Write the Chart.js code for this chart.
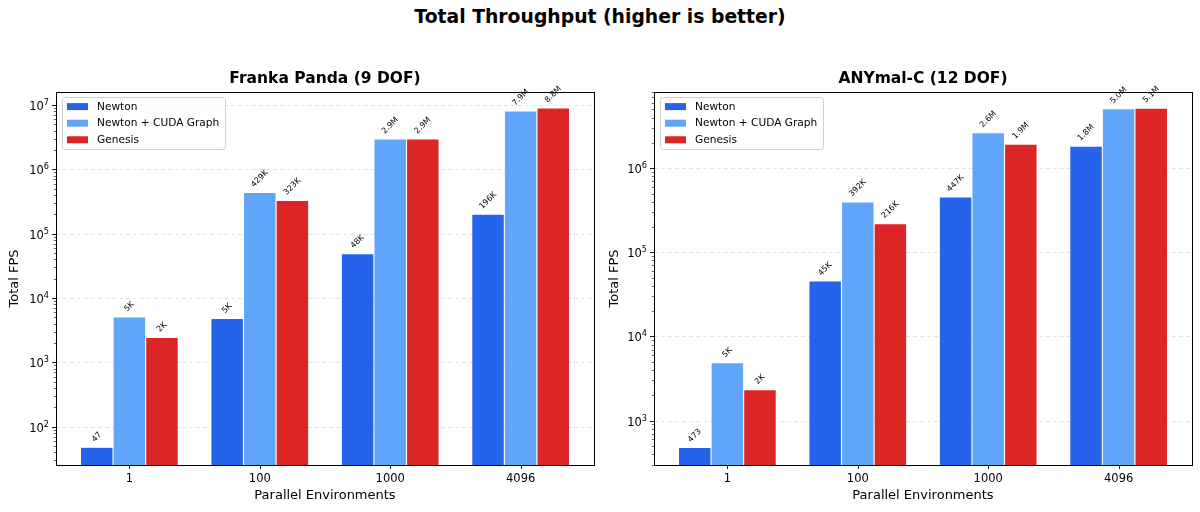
<!DOCTYPE html>
<html><head><meta charset="utf-8">
<script src="https://cdn.jsdelivr.net/npm/chart.js@4.4.0/dist/chart.umd.min.js"></script>
<style>
html,body{margin:0;padding:0;background:#fff;}
#wrap{position:relative;width:1200px;height:512px;overflow:hidden;}
#sup{position:absolute;left:0;top:5px;width:1200px;text-align:center;font:bold 18.8px "DejaVu Sans";color:#000;line-height:24px;}
.c{position:absolute;top:0;width:600px;height:512px;}
</style></head><body>
<div id="wrap">
<div id="sup">Total Throughput (higher is better)</div>
<div class="c" style="left:0"><canvas id="c1" width="600" height="512"></canvas></div>
<div class="c" style="left:600px"><canvas id="c2" width="600" height="512"></canvas></div>
</div>
<script>
// ---- data ----
const categories = ['1', '100', '1000', '4096'];
const seriesNames = ['Newton', 'Newton + CUDA Graph', 'Genesis'];
const seriesColors = ['#2563EB', '#60A5FA', '#DC2626'];

const frankaNewton  = [47, 4700, 48000, 196000];
const frankaCuda    = [5000, 429000, 2900000, 7900000];
const frankaGenesis = [2400, 323000, 2900000, 8800000];

const anymalNewton  = [473, 45000, 447000, 1800000];
const anymalCuda    = [4800, 392000, 2600000, 5000000];
const anymalGenesis = [2300, 216000, 1900000, 5100000];

const frankaYRange = [25.4, 1.59e7];
const anymalYRange = [297, 8.04e6];

// ---- helpers ----
const FONT = '"DejaVu Sans", "Liberation Sans", sans-serif';
function fmtVal(v) {
  if (v >= 1e6) return (v / 1e6).toFixed(1) + 'M';
  if (v >= 1e3) return Math.round(v / 1e3) + 'K';
  return String(Math.round(v));
}

const framePlugin = {
  id: 'frame',
  beforeDatasetsDraw(chart) {
    const {ctx, chartArea: a} = chart;
    const y = chart.scales.y;
    ctx.save();
    ctx.strokeStyle = 'rgba(176,176,176,0.45)';
    ctx.lineWidth = 0.8;
    ctx.setLineDash([4, 3]);
    const e0 = Math.ceil(Math.log10(y.min)), e1 = Math.floor(Math.log10(y.max));
    for (let e = e0; e <= e1; e++) {
      const py = Math.round(y.getPixelForValue(Math.pow(10, e))) + 0.5;
      ctx.beginPath(); ctx.moveTo(a.left, py); ctx.lineTo(a.right, py); ctx.stroke();
    }
    ctx.restore();
  },
  afterDatasetsDraw(chart) {
    const {ctx, chartArea: a} = chart;
    const y = chart.scales.y, x = chart.scales.x;
    ctx.save();
    // value labels
    ctx.fillStyle = '#000';
    ctx.font = '8px ' + FONT;
    chart.data.datasets.forEach((ds, i) => {
      const meta = chart.getDatasetMeta(i);
      meta.data.forEach((el, j) => {
        const t = fmtVal(ds.data[j].y);
        const w = ctx.measureText(t).width;
        const bh = (w + 5.8) * Math.SQRT1_2;
        ctx.save();
        ctx.translate(el.x, el.y - 5 - bh / 2);
        ctx.rotate(-Math.PI / 4);
        ctx.textAlign = 'center';
        ctx.textBaseline = 'middle';
        ctx.fillText(t, 0, 0);
        ctx.restore();
      });
    });
    // frame
    ctx.strokeStyle = '#000';
    ctx.lineWidth = 1;
    ctx.strokeRect(Math.round(a.left) + 0.5, Math.round(a.top) + 0.5, Math.round(a.right - a.left), Math.round(a.bottom - a.top));
    // y ticks major/minor + labels
    const e0 = Math.floor(Math.log10(y.min)), e1 = Math.ceil(Math.log10(y.max));
    for (let e = e0; e <= e1; e++) {
      for (let m = 1; m <= 9; m++) {
        const v = m * Math.pow(10, e);
        if (v < y.min || v > y.max) continue;
        const py = Math.round(y.getPixelForValue(v)) + 0.5;
        const len = m === 1 ? 4 : 2.2;
        ctx.lineWidth = m === 1 ? 0.9 : 0.6;
        ctx.beginPath(); ctx.moveTo(a.left, py); ctx.lineTo(a.left - len, py); ctx.stroke();
        if (m === 1) {
          const ex = String(e);
          ctx.fillStyle = '#000';
          ctx.textBaseline = 'alphabetic';
          ctx.textAlign = 'right';
          ctx.font = '8.2px ' + FONT;
          const ew = ctx.measureText(ex).width;
          const rx = a.left - 7;
          ctx.fillText(ex, rx, py - 1);
          ctx.font = '11.5px ' + FONT;
          ctx.fillText('10', rx - ew, py + 4.3);
        }
      }
    }
    // x ticks
    ctx.lineWidth = 0.9;
    x.ticks.forEach(tk => {
      const px = Math.round(x.getPixelForValue(tk.value)) + 0.5;
      ctx.beginPath(); ctx.moveTo(px, a.bottom); ctx.lineTo(px, a.bottom + 4); ctx.stroke();
    });
    ctx.restore();
  },
  afterDraw(chart) {
    const {ctx, chartArea: a} = chart;
    const o = chart.options.plugins.frame;
    ctx.save();
    // subplot title
    ctx.fillStyle = '#000';
    ctx.font = 'bold 15.5px ' + FONT;
    ctx.textAlign = 'center';
    ctx.textBaseline = 'middle';
    ctx.fillText(o.title, (a.left + a.right) / 2, 79);
    // legend
    const bx = a.left + 6, by = a.top + 5, bw = 163, bhh = 52;
    ctx.beginPath();
    ctx.roundRect(bx + 0.5, by + 0.5, bw, bhh, 3);
    ctx.fillStyle = 'rgba(255,255,255,0.8)';
    ctx.fill();
    ctx.strokeStyle = '#d0d0d0';
    ctx.lineWidth = 1;
    ctx.stroke();
    ctx.font = '10.6px ' + FONT;
    ctx.textAlign = 'left';
    chart.data.datasets.forEach((ds, i) => {
      const cy = by + 9.5 + i * 16.6;
      ctx.fillStyle = ds.backgroundColor;
      ctx.fillRect(bx + 5, cy - 3.4, 21, 7);
      ctx.fillStyle = '#000';
      ctx.fillText(ds.label, bx + 35, cy + 0.5);
    });
    ctx.restore();
  }
};

function makeChart(id, title, series, yRange, padRight, yWidth) {
  const datasets = series.map((vals, i) => ({
    label: seriesNames[i],
    data: vals.map((v, j) => ({x: j, y: v})),
    backgroundColor: seriesColors[i],
    borderColor: seriesColors[i],
    borderWidth: 0,
    categoryPercentage: 0.75,
    barPercentage: 0.965
  }));
  return new Chart(document.getElementById(id), {
    type: 'bar',
    data: {datasets},
    plugins: [framePlugin],
    options: {
      responsive: false,
      animation: false,
      devicePixelRatio: 1,
      layout: {padding: {left: 0, right: padRight, top: 92, bottom: 0}},
      plugins: {
        legend: {display: false},
        tooltip: {enabled: false},
        title: {display: false},
        frame: {title}
      },
      scales: {
        x: {
          type: 'linear',
          min: -0.5625, max: 3.5625,
          offset: false,
          grid: {display: false, drawTicks: false, offset: false},
          border: {display: false},
          afterBuildTicks(s) { s.ticks = categories.map((c, i) => ({value: i})); },
          afterFit(s) { s.height = 47; },
          ticks: {
            color: '#000', font: {family: FONT, size: 11.5}, padding: 7,
            autoSkip: false, maxRotation: 0,
            callback: (v) => categories[v]
          },
          title: {display: true, text: 'Parallel Environments', color: '#000',
                  font: {family: FONT, size: 13}, padding: {top: 0, bottom: 9}}
        },
        y: {
          type: 'logarithmic',
          min: yRange[0], max: yRange[1],
          bounds: 'data',
          grid: {display: false, drawTicks: false},
          border: {display: false},
          afterBuildTicks(s) {
            const t = [];
            for (let e = Math.ceil(Math.log10(s.min)); e <= Math.floor(Math.log10(s.max)); e++) t.push({value: Math.pow(10, e), major: true});
            s.ticks = t;
          },
          afterFit(s) { s.width = yWidth; },
          ticks: {display: false},
          title: {display: true, text: 'Total FPS', color: '#000',
                  font: {family: FONT, size: 13}, padding: {top: 7, bottom: 0}}
        }
      }
    }
  });
}

makeChart('c1', 'Franka Panda (9 DOF)', [frankaNewton, frankaCuda, frankaGenesis], frankaYRange, 6, 56);
makeChart('c2', 'ANYmal-C (12 DOF)', [anymalNewton, anymalCuda, anymalGenesis], anymalYRange, 8, 54);
</script>
</body></html>
